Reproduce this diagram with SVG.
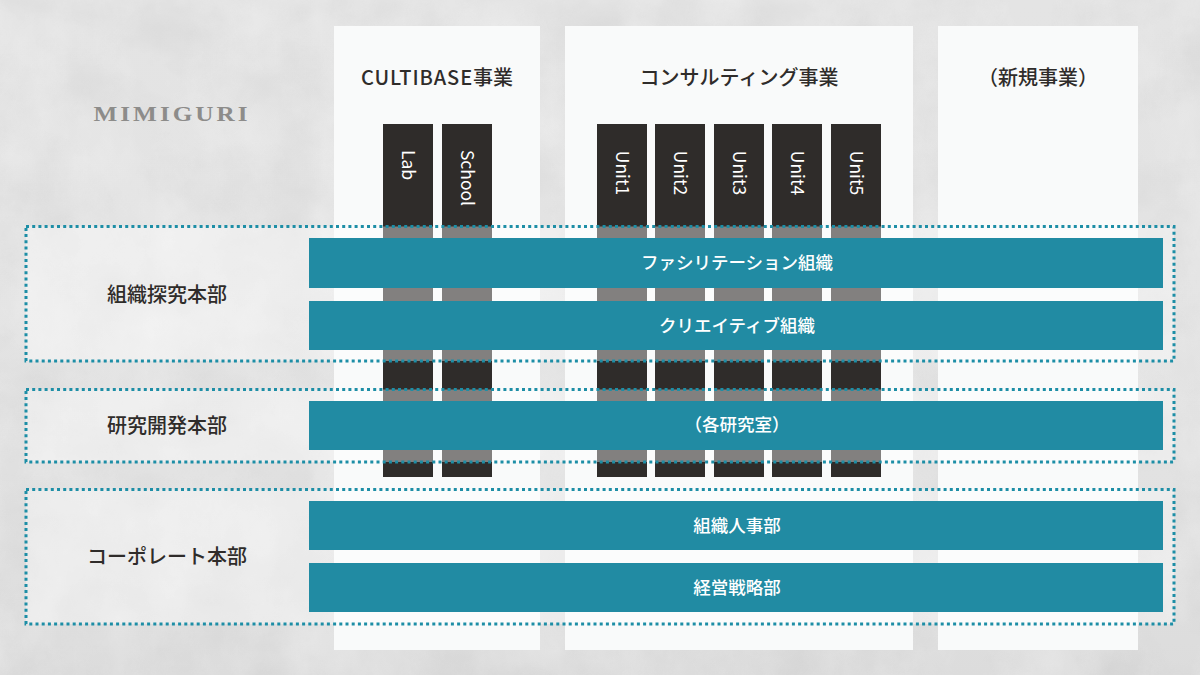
<svg xmlns="http://www.w3.org/2000/svg" width="1200" height="675" viewBox="0 0 1200 675">
<defs>
<filter id="concrete" x="0" y="0" width="100%" height="100%">
<feTurbulence type="fractalNoise" baseFrequency="0.012 0.018" numOctaves="6" seed="7"/>
<feColorMatrix type="matrix" values="0 0 0 0 0.45  0 0 0 0 0.45  0 0 0 0 0.45  1.1 1.1 0 0 -0.95"/>
</filter>
<filter id="concreteLight" x="0" y="0" width="100%" height="100%">
<feTurbulence type="fractalNoise" baseFrequency="0.016 0.01" numOctaves="6" seed="23"/>
<feColorMatrix type="matrix" values="0 0 0 0 1  0 0 0 0 1  0 0 0 0 1  1.2 1.2 0 0 -1"/>
</filter>
<linearGradient id="bgShade" x1="0" y1="0" x2="0" y2="1">
<stop offset="0" stop-color="#e4e4e4"/><stop offset="0.7" stop-color="#e2e2e2"/><stop offset="1" stop-color="#dcdcdc"/>
</linearGradient>
</defs>
<style>
text{font-family:"Noto Sans CJK JP","Noto Sans",sans-serif;font-weight:500;text-anchor:middle}
.col{fill:#f9fafa}
.unit{fill:#2f2c2a}
.overlay{fill:#fff;fill-opacity:.4}
.dots{fill:none;stroke:#1d8ea6;stroke-width:3;stroke-dasharray:3 3.2}
.bar{fill:#218ba3}
.head{font-size:20px;fill:#2f2c2a}
.latin{letter-spacing:.9px}
.dept{font-size:20px;fill:#2f2c2a}
.bartext{font-size:17.500px;fill:#fff}
.unittext{font-size:17.500px;fill:#fff;font-weight:400}
</style>
<rect id="background" width="1200" height="675" fill="url(#bgShade)"/>
<rect width="1200" height="675" filter="url(#concrete)" opacity=".22"/>
<rect width="1200" height="675" filter="url(#concreteLight)" opacity=".3"/>
<text id="logo" transform="translate(172 121) scale(1.2 1)" style="font-family:'Liberation Serif',serif;font-size:21px;letter-spacing:2.500px;fill:#8d8c8a;font-weight:700">MIMIGURI</text>
<g id="col-cultibase"><rect class="col" x="334" y="26" width="206" height="624"/><text class="head" x="437" y="85"><tspan class="latin">CULTIBASE</tspan>事業</text></g>
<g id="col-consulting"><rect class="col" x="565" y="26" width="348" height="624"/><text class="head" x="739" y="85">コンサルティング事業</text></g>
<g id="col-new"><rect class="col" x="938" y="26" width="200" height="624"/><text class="head" x="1038" y="85">（新規事業）</text></g>
<g id="unit-lab"><rect class="unit" x="383" y="124" width="50" height="353"/><text class="unittext" transform="translate(408 165) rotate(90)" dy=".35em">Lab</text></g>
<g id="unit-school"><rect class="unit" x="442" y="124" width="50" height="353"/><text class="unittext" transform="translate(467 178) rotate(90)" dy=".35em">School</text></g>
<g id="unit-1"><rect class="unit" x="597" y="124" width="50" height="353"/><text class="unittext" transform="translate(622 173) rotate(90)" dy=".35em">Unit1</text></g>
<g id="unit-2"><rect class="unit" x="655" y="124" width="50" height="353"/><text class="unittext" transform="translate(680 173) rotate(90)" dy=".35em">Unit2</text></g>
<g id="unit-3"><rect class="unit" x="714" y="124" width="50" height="353"/><text class="unittext" transform="translate(739 173) rotate(90)" dy=".35em">Unit3</text></g>
<g id="unit-4"><rect class="unit" x="772" y="124" width="50" height="353"/><text class="unittext" transform="translate(797 173) rotate(90)" dy=".35em">Unit4</text></g>
<g id="unit-5"><rect class="unit" x="831" y="124" width="50" height="353"/><text class="unittext" transform="translate(856 173) rotate(90)" dy=".35em">Unit5</text></g>
<g id="dept-organization"><rect class="overlay" x="26" y="226.500" width="1148" height="134.500"/><rect class="dots" x="26" y="226.500" width="1148" height="134.500"/><text class="dept" x="167" y="302">組織探究本部</text></g>
<g id="dept-research"><rect class="overlay" x="26" y="389.500" width="1148" height="72.500"/><rect class="dots" x="26" y="389.500" width="1148" height="72.500"/><text class="dept" x="167" y="433">研究開発本部</text></g>
<g id="dept-corporate"><rect class="overlay" x="26" y="489.500" width="1148" height="134.500"/><rect class="dots" x="26" y="489.500" width="1148" height="134.500"/><text class="dept" x="167" y="564">コーポレート本部</text></g>
<g id="bar-facilitation"><rect class="bar" x="309" y="238" width="854" height="50"/><text class="bartext" x="737" y="269">ファシリテーション組織</text></g>
<g id="bar-creative"><rect class="bar" x="309" y="301" width="854" height="49"/><text class="bartext" x="737" y="332">クリエイティブ組織</text></g>
<g id="bar-labs"><rect class="bar" x="309" y="401" width="854" height="49"/><text class="bartext" x="737" y="431">（各研究室）</text></g>
<g id="bar-hr"><rect class="bar" x="309" y="501" width="854" height="49"/><text class="bartext" x="737" y="532">組織人事部</text></g>
<g id="bar-strategy"><rect class="bar" x="309" y="563" width="854" height="49"/><text class="bartext" x="737" y="594">経営戦略部</text></g>
<g id="connectors"></g>
</svg>
